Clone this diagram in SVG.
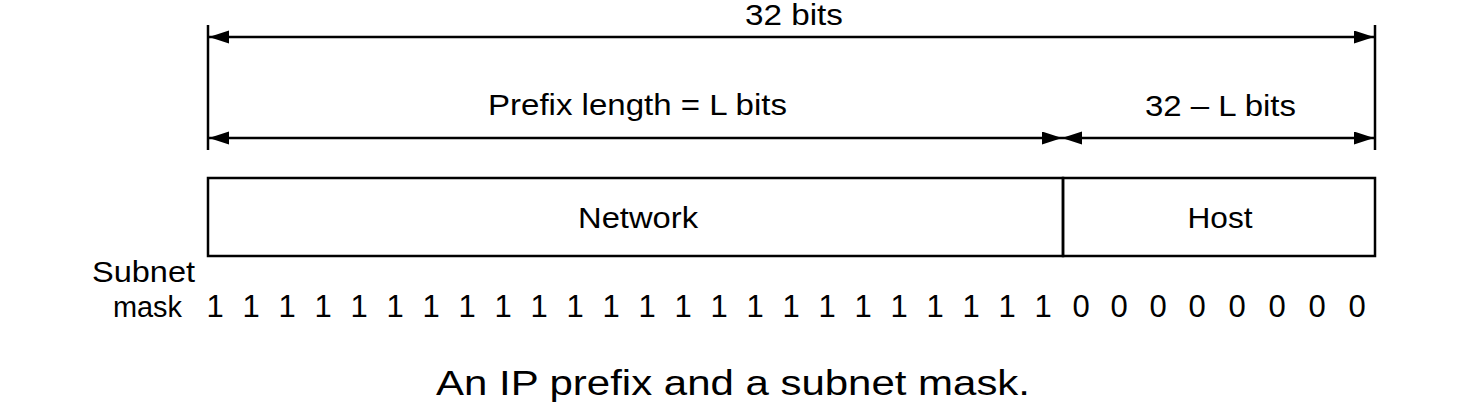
<svg xmlns="http://www.w3.org/2000/svg" width="1482" height="405" viewBox="0 0 1482 405">
<style>
text{font-family:"Liberation Sans",Arial,sans-serif;fill:#000;}
.lbl{font-size:29px;text-anchor:middle;}
.d{font-size:31px;text-anchor:middle;}
.cap{font-size:35px;text-anchor:middle;}
.ln{stroke:#000;stroke-width:2.5;fill:none;}
</style>
<defs>
<marker id="ah" markerUnits="userSpaceOnUse" markerWidth="22" markerHeight="14" refX="20" refY="6.5" orient="auto-start-reverse">
<path d="M0,0 L20,6.5 L0,13 Z" fill="#000"/>
</marker>
</defs>
<g id="connectors">
<line class="ln" x1="208" y1="25" x2="208" y2="150"/>
<line class="ln" x1="1375" y1="25" x2="1375" y2="150"/>
<line class="ln" x1="209" y1="37" x2="1374" y2="37" marker-start="url(#ah)" marker-end="url(#ah)"/>
<line class="ln" x1="209" y1="138" x2="1062" y2="138" marker-start="url(#ah)" marker-end="url(#ah)"/>
<line class="ln" x1="1062" y1="138" x2="1374" y2="138" marker-start="url(#ah)" marker-end="url(#ah)"/>
</g>
<g id="label-32bits"><text class="lbl" x="794" y="25" textLength="98" lengthAdjust="spacingAndGlyphs">32 bits</text></g>
<g id="label-prefix"><text class="lbl" x="637.5" y="115" textLength="299" lengthAdjust="spacingAndGlyphs">Prefix length = L bits</text></g>
<g id="label-host-bits"><text class="lbl" x="1220.5" y="116" textLength="151" lengthAdjust="spacingAndGlyphs">32 – L bits</text></g>
<g id="network">
<rect class="ln" x="208" y="178" width="855" height="78"/>
<text class="lbl" x="638" y="228" textLength="120" lengthAdjust="spacingAndGlyphs">Network</text>
</g>
<g id="host">
<rect class="ln" x="1063" y="178" width="312" height="78"/>
<text class="lbl" x="1220" y="228" textLength="65" lengthAdjust="spacingAndGlyphs">Host</text>
</g>
<g id="subnet-label">
<text class="lbl" x="143.5" y="282" textLength="103" lengthAdjust="spacingAndGlyphs">Subnet</text>
<text class="lbl" x="147.5" y="317" textLength="69" lengthAdjust="spacingAndGlyphs">mask</text>
</g>
<g id="mask-bits">
<text class="d" x="215" y="317">1</text><text class="d" x="251" y="317">1</text><text class="d" x="287" y="317">1</text><text class="d" x="323" y="317">1</text>
<text class="d" x="359" y="317">1</text><text class="d" x="395" y="317">1</text><text class="d" x="431" y="317">1</text><text class="d" x="467" y="317">1</text>
<text class="d" x="503" y="317">1</text><text class="d" x="539" y="317">1</text><text class="d" x="575" y="317">1</text><text class="d" x="611" y="317">1</text>
<text class="d" x="647" y="317">1</text><text class="d" x="683" y="317">1</text><text class="d" x="719" y="317">1</text><text class="d" x="755" y="317">1</text>
<text class="d" x="791" y="317">1</text><text class="d" x="827" y="317">1</text><text class="d" x="863" y="317">1</text><text class="d" x="899" y="317">1</text>
<text class="d" x="935" y="317">1</text><text class="d" x="971" y="317">1</text><text class="d" x="1007" y="317">1</text><text class="d" x="1043" y="317">1</text>
<text class="d" x="1081" y="317">0</text><text class="d" x="1119" y="317">0</text><text class="d" x="1158" y="317">0</text><text class="d" x="1197" y="317">0</text>
<text class="d" x="1237" y="317">0</text><text class="d" x="1277" y="317">0</text><text class="d" x="1317" y="317">0</text><text class="d" x="1357" y="317">0</text>
</g>
<g id="caption"><text class="cap" x="733" y="395" textLength="594" lengthAdjust="spacingAndGlyphs">An IP prefix and a subnet mask.</text></g>
</svg>
